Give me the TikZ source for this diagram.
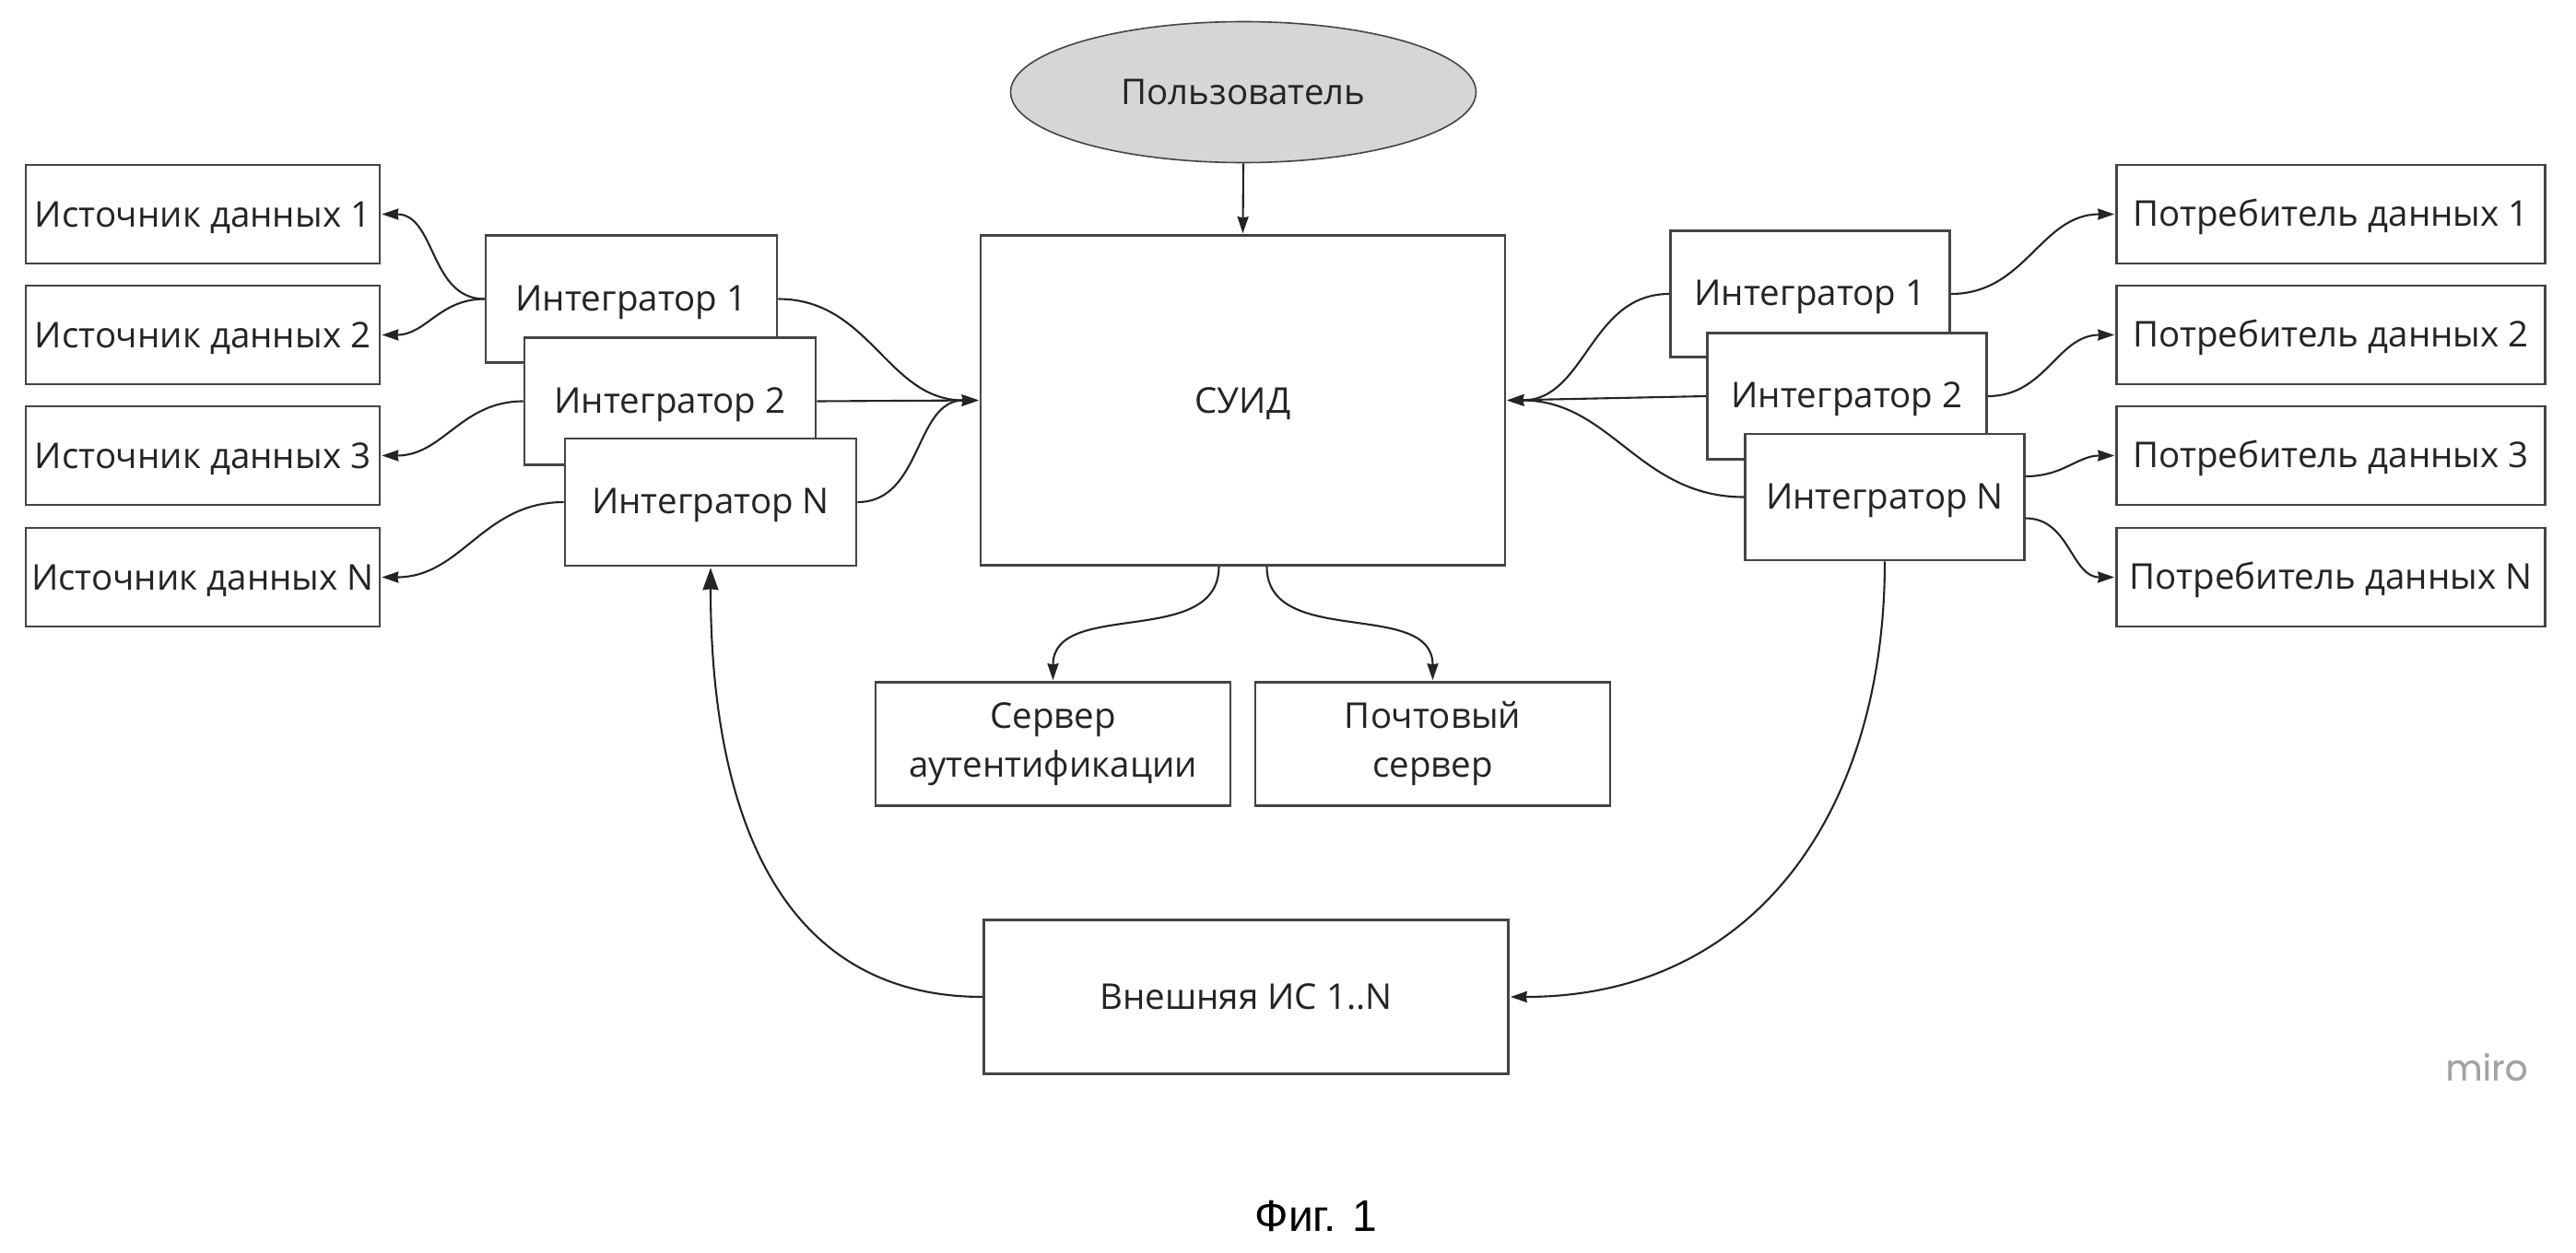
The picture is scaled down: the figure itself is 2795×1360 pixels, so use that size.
\documentclass[tikz,border=0pt]{standalone}
\usepackage{fontspec}
\setmainfont{Open Sans}
\newfontfamily\capfont{Liberation Sans}
\newfontfamily\mirofont[FakeBold=0.5]{Poppins}
\usetikzlibrary{arrows.meta,shapes.geometric}
\definecolor{ink}{HTML}{242424}
\definecolor{edge}{HTML}{444444}
\tikzset{
  plainbox/.style={draw=edge,line width=2.6pt,fill=white,text=ink,align=center,inner sep=0pt,font=\fontsize{38.5}{53}\selectfont},
  basebox/.style={plainbox,execute at begin node=\rule{0pt}{35pt}},
  srcbox/.style={basebox,minimum width=384pt,minimum height=107pt},
  consbox/.style={basebox,minimum width=465pt,minimum height=107pt},
  intl/.style={basebox,minimum width=316pt,minimum height=138pt},
  intr/.style={basebox,minimum width=303pt,minimum height=137pt},
  svcbox/.style={plainbox,minimum width=385pt,minimum height=134pt,yshift=-1.5pt},
  conn/.style={draw=ink,line width=2.1pt,-{Stealth[length=18pt,width=12pt,inset=1pt]},shorten >=1pt},
  bigconn/.style={draw=ink,line width=2.1pt,-{Stealth[length=24pt,width=17pt,inset=1pt]},shorten >=1pt}
}
\begin{document}
\begin{tikzpicture}[x=1pt,y=-1pt]
\useasboundingbox (0,0) rectangle (2795,1360);
% user
\node[ellipse,draw=edge,line width=1.6pt,fill=black!16,text=ink,minimum width=505pt,minimum height=153pt,inner sep=0pt,font=\fontsize{38.5}{46}\selectfont] (user) at (1349,100) {Пользователь};
% centre
\node[basebox,minimum width=569pt,minimum height=358pt] (suid) at (1348.5,434.5) {СУИД};
\node[svcbox] (auth) at (1142.5,806) {Сервер\\аутентификации};
\node[svcbox] (mail) at (1554.5,806) {Почтовый\\сервер};
\node[plainbox,minimum width=569pt,minimum height=167pt] (ext) at (1352,1082) {Внешняя ИС 1..N};
% sources
\node[srcbox] (s1) at (220,232.5) {Источник данных 1};
\node[srcbox] (s2) at (220,363.5) {Источник данных 2};
\node[srcbox] (s3) at (220,494.5) {Источник данных 3};
\node[srcbox] (s4) at (220,626.5) {Источник данных N};
% consumers
\node[consbox] (c1) at (2529,232.5) {Потребитель данных 1};
\node[consbox] (c2) at (2529,363.5) {Потребитель данных 2};
\node[consbox] (c3) at (2529,494.5) {Потребитель данных 3};
\node[consbox] (c4) at (2529,626.5) {Потребитель данных N};
% integrators left
\node[intl] (il1) at (685,324.5) {Интегратор 1};
\node[intl] (il2) at (727,435.5) {Интегратор 2};
\node[intl] (il3) at (771,545) {Интегратор N};
% integrators right
\node[intr] (ir1) at (1964,319) {Интегратор 1};
\node[intr] (ir2) at (2004,430) {Интегратор 2};
\node[intr] (ir3) at (2045,539.5) {Интегратор N};
% connectors
\draw[conn] (user.south) -- (suid.north);
\draw[conn] (il1.west) to[out=180,in=0,looseness=1.05] (s1.east);
\draw[conn] (il1.west) to[out=180,in=0,looseness=1.05] (s2.east);
\draw[conn] (il2.west) to[out=180,in=0,looseness=1.05] (s3.east);
\draw[conn] (il3.west) to[out=180,in=0,looseness=1.05] (s4.east);
\draw[conn] (il1.east) to[out=0,in=180,looseness=1.05] (suid.west);
\draw[conn] (il2.east) -- (suid.west);
\draw[conn] (il3.east) to[out=0,in=180,looseness=1.05] (suid.west);
\draw[conn] (ir1.west) to[out=180,in=0,looseness=1.05] (suid.east);
\draw[conn] (ir2.west) -- (suid.east);
\draw[conn] (ir3.west) to[out=180,in=0,looseness=1.05] (suid.east);
\draw[conn] (ir1.east) to[out=0,in=180,looseness=1.05] (c1.west);
\draw[conn] (ir2.east) to[out=0,in=180,looseness=1.05] (c2.west);
\draw[conn] ([yshift=22.5pt]ir3.east) to[out=0,in=180,looseness=1.05] (c3.west);
\draw[conn] ([yshift=-23pt]ir3.east) to[out=0,in=180,looseness=1.05] (c4.west);
\draw[conn] ([xshift=-26pt]suid.south) to[out=-90,in=90,looseness=1.05] (auth.north);
\draw[conn] ([xshift=26pt]suid.south) to[out=-90,in=90,looseness=1.05] (mail.north);
\draw[bigconn] (ext.west) to[out=180,in=-90,looseness=1.1] (il3.south);
\draw[conn] (ir3.south) to[out=-90,in=0,looseness=1.1] (ext.east);
% labels
\node[text=black!36,font=\mirofont\fontsize{39}{46}\selectfont,inner sep=0pt] (miro) at (2698,1158) {miro};
\node[text=black,font=\capfont\fontsize{48}{56}\selectfont,inner sep=0pt] (fig) at (1428,1320) {Фиг. 1};
\end{tikzpicture}
\end{document}
